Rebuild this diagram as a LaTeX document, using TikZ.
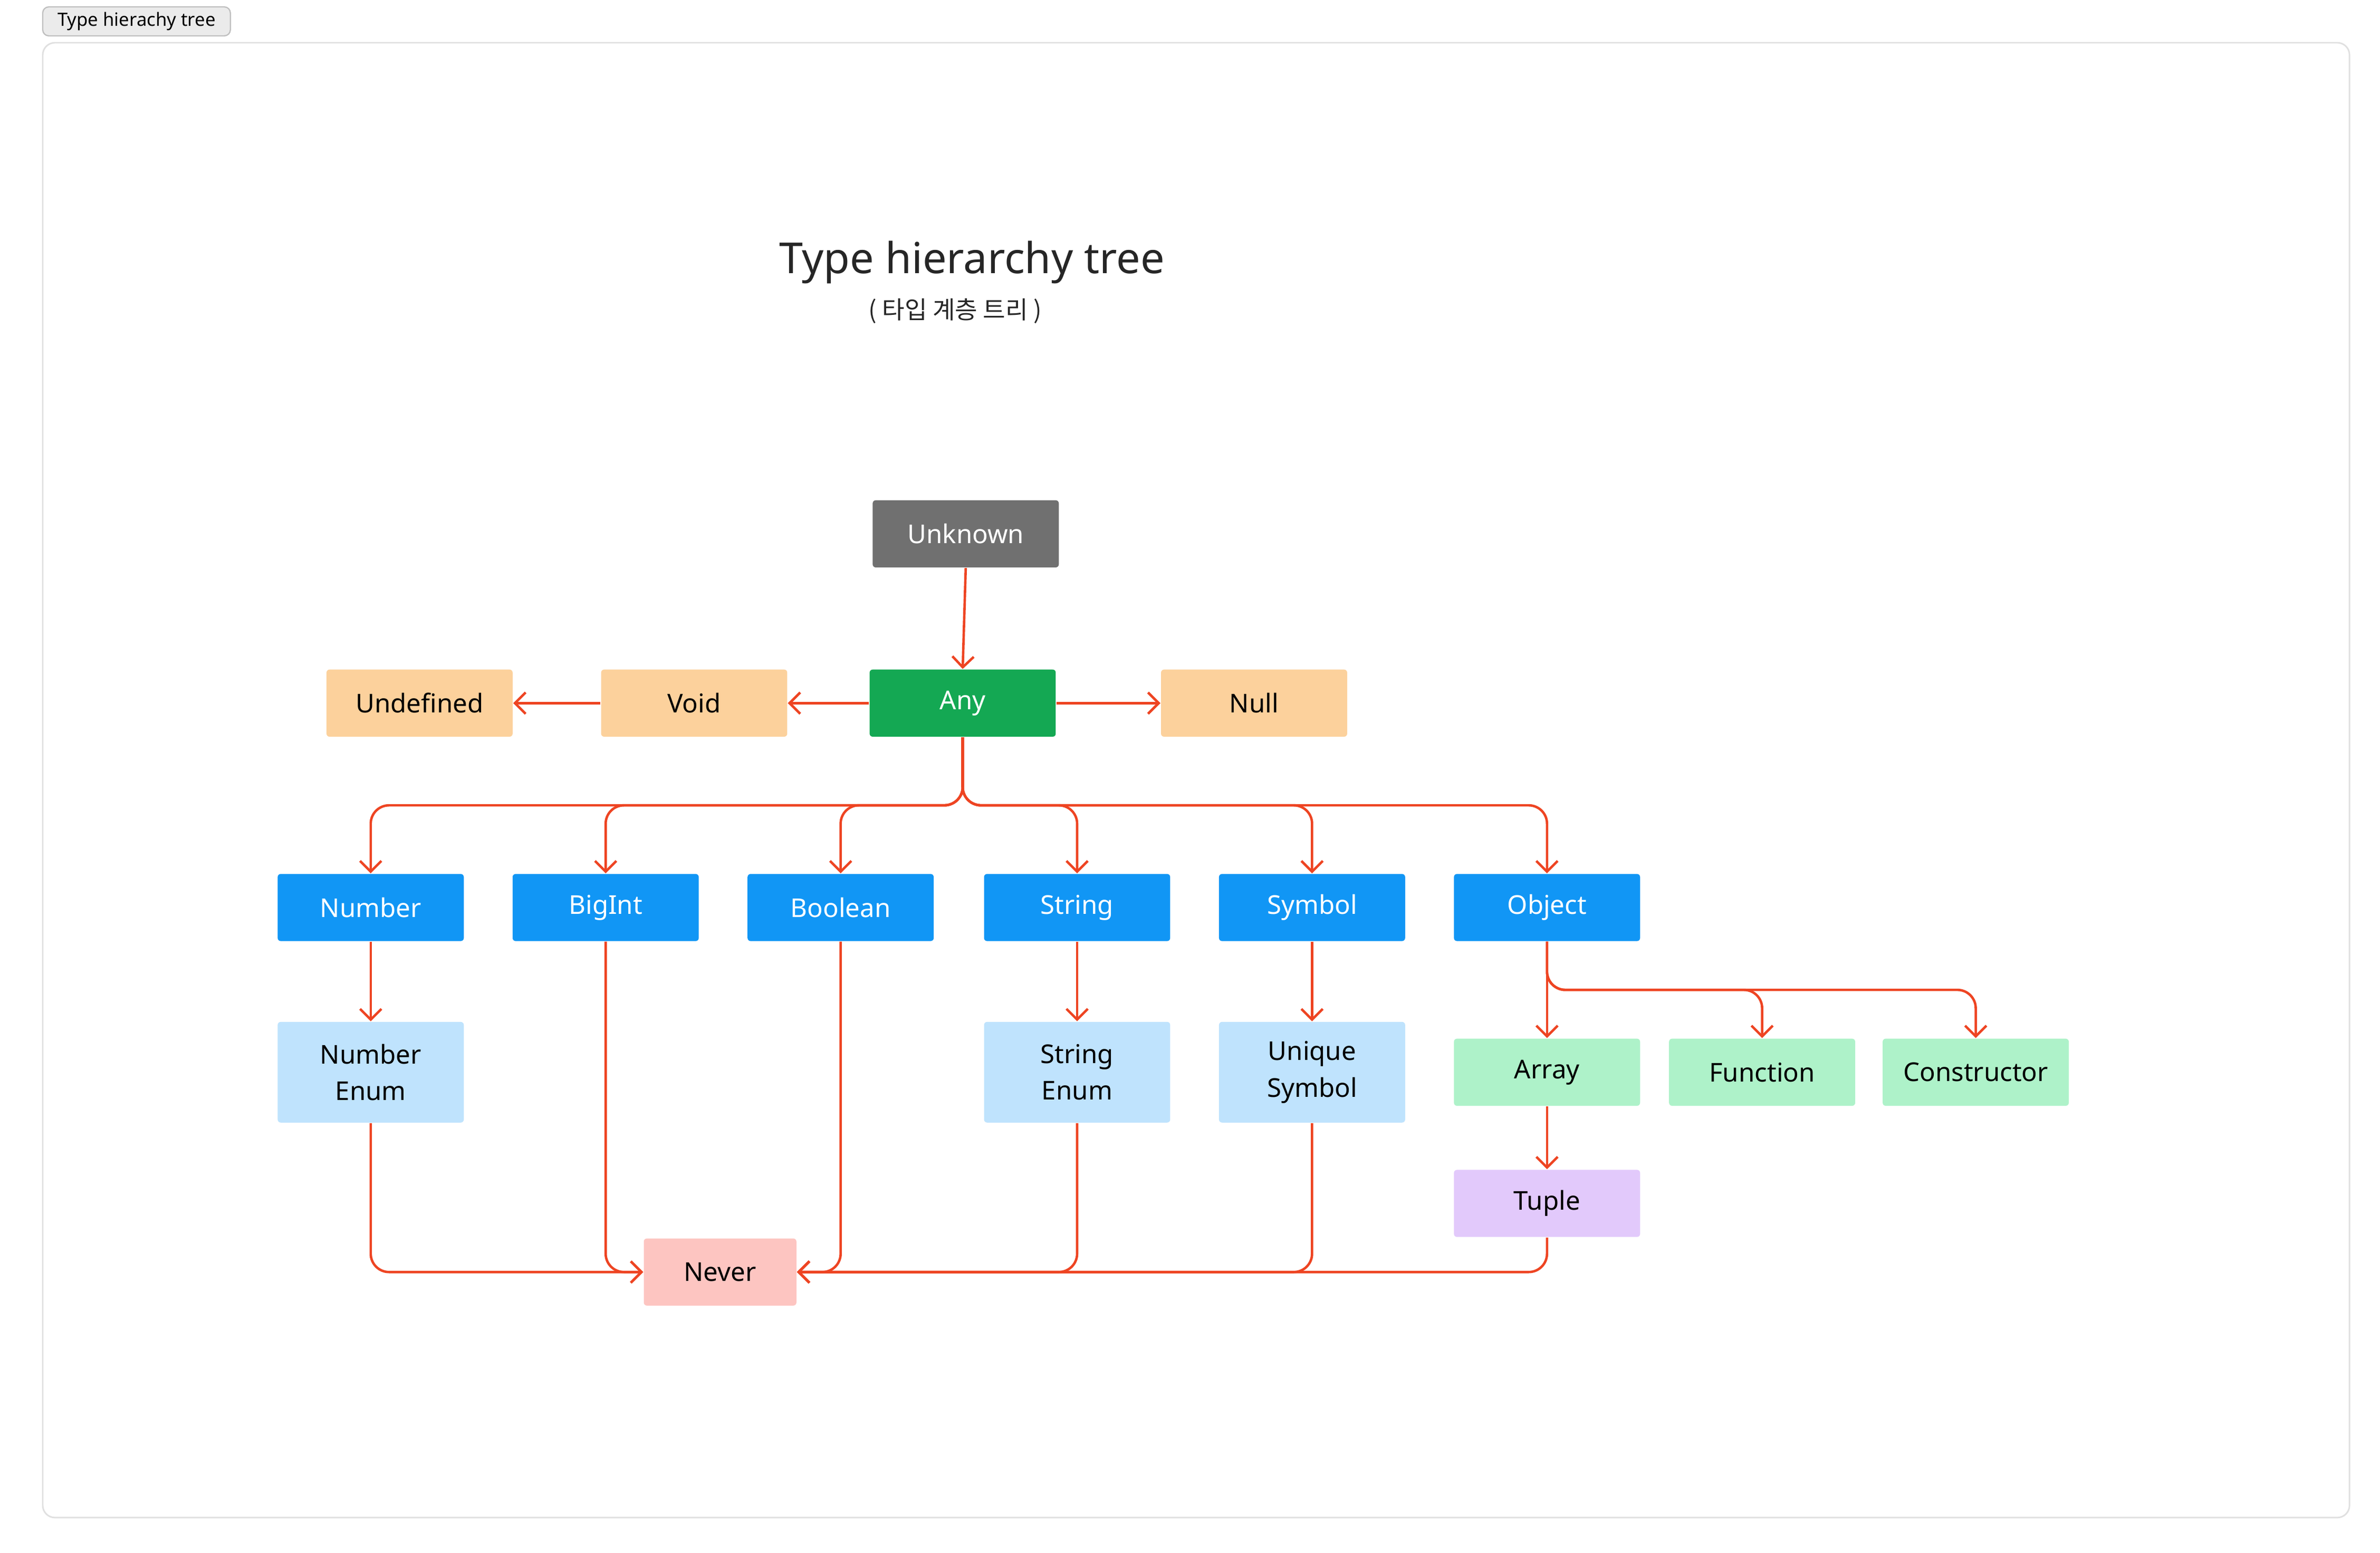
\documentclass[tikz,border=0pt]{standalone}
\usepackage{fontspec}
\setmainfont{Noto Sans}
\newfontfamily\kr{Noto Sans CJK KR}
\usetikzlibrary{arrows.meta}
\definecolor{ar}{HTML}{EE4422}
\definecolor{gr}{HTML}{707070}
\definecolor{gn}{HTML}{14A853}
\definecolor{og}{HTML}{FCD19C}
\definecolor{bl}{HTML}{1196F5}
\definecolor{lb}{HTML}{BFE3FD}
\definecolor{lg}{HTML}{AEF2C9}
\definecolor{pu}{HTML}{E2C9FB}
\definecolor{pk}{HTML}{FDC5C1}
\begin{document}
\begin{tikzpicture}[x=0.5pt,y=-0.5pt,
 box/.style={rectangle,rounded corners=1pt,minimum width=61pt,minimum height=22pt,inner sep=0pt,font=\fontsize{8.5}{12}\selectfont,align=center},
 dark/.style={box,text=white},
 arr/.style={draw=ar,line width=0.8pt,rounded corners=6pt,-{Straight Barb[length=3.5pt,width=7pt]}}]
\useasboundingbox (0,0) rectangle (1560,1018);
\fill[white] (0,0) rectangle (1560,1018);
\draw[black!12,line width=0.5pt,rounded corners=4pt] (28,28) rectangle (1540,995);
\node[draw=black!25,fill=black!8,rounded corners=2pt,minimum width=61.5pt,minimum height=9.5pt,inner sep=0pt,font=\fontsize{6}{7}\selectfont] (tab) at (89.5,14) {Type hierachy tree};
\node[font=\fontsize{14}{16}\selectfont,text=black!85] (title) at (637,172) {Type hierarchy tree};
\node[font=\kr\fontsize{8}{10}\selectfont,text=black!85] (sub) at (626,204) {( 타입 계층 트리 )};
\node[dark,fill=gr] (unk) at (633,350) {Unknown};
\node[dark,fill=gn] (any) at (631,461) {Any};
\node[box,fill=og] (void) at (455,461) {Void};
\node[box,fill=og] (undef) at (275,461) {Undefined};
\node[box,fill=og] (null) at (822,461) {Null};
\node[dark,fill=bl] (num) at (243,595) {Number};
\node[dark,fill=bl] (big) at (397,595) {BigInt};
\node[dark,fill=bl] (bool) at (551,595) {Boolean};
\node[dark,fill=bl] (str) at (706,595) {String};
\node[dark,fill=bl] (sym) at (860,595) {Symbol};
\node[dark,fill=bl] (obj) at (1014,595) {Object};
\node[box,fill=lb,minimum height=33pt] (ne) at (243,703) {Number\\Enum};
\node[box,fill=lb,minimum height=33pt] (se) at (706,703) {String\\Enum};
\node[box,fill=lb,minimum height=33pt] (us) at (860,703) {Unique\\Symbol};
\node[box,fill=lg] (arr) at (1014,703) {Array};
\node[box,fill=lg] (fun) at (1155,703) {Function};
\node[box,fill=lg] (con) at (1295,703) {Constructor};
\node[box,fill=pu] (tup) at (1014,789) {Tuple};
\node[box,fill=pk,minimum width=50pt] (nev) at (472,834) {Never};
\draw[arr] (unk.south) -- (any.north);
\draw[arr] (any.west) -- (void.east);
\draw[arr] (void.west) -- (undef.east);
\draw[arr] (any.east) -- (null.west);
\foreach \n/\x in {num/243,big/397,bool/551,str/706,sym/860,obj/1014}
  \draw[arr] (any.south) -- (631,528) -- (\x,528) -- (\n.north);
\draw[arr] (num.south) -- (ne.north);
\draw[arr] (str.south) -- (se.north);
\draw[arr] (sym.south) -- (us.north);
\draw[arr] (obj.south) -- (arr.north);
\draw[arr] (obj.south) -- (1014,649) -- (1155,649) -- (fun.north);
\draw[arr] (obj.south) -- (1014,649) -- (1295,649) -- (con.north);
\draw[arr] (arr.south) -- (tup.north);
\draw[arr] (ne.south) |- (nev.west);
\draw[arr] (big.south) |- (nev.west);
\draw[arr] (bool.south) |- (nev.east);
\draw[arr] (se.south) |- (nev.east);
\draw[arr] (us.south) |- (nev.east);
\draw[arr] (tup.south) |- (nev.east);
\end{tikzpicture}
\end{document}
